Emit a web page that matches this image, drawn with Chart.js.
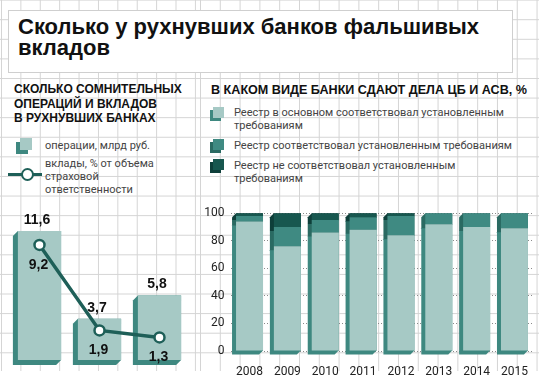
<!DOCTYPE html>
<html><head><meta charset="utf-8">
<script src="https://cdn.jsdelivr.net/npm/chart.js@4"></script>
<style>
html,body{margin:0;padding:0;background:#fff;}
body{width:539px;height:380px;position:relative;overflow:hidden;font-family:"Liberation Sans",Arial,sans-serif;}
.gridL{position:absolute;left:0;top:0;width:200px;height:371px;
 background-image:linear-gradient(to right,#d4d4d4 1px,transparent 1px),linear-gradient(to bottom,#d4d4d4 1px,transparent 1px);
 background-size:19.4px 19.6px;background-position:1px -0.4px;}
.gridR{position:absolute;left:200px;top:0;width:339px;height:371px;
 background-image:linear-gradient(to right,#d4d4d4 1px,transparent 1px),linear-gradient(to bottom,#d4d4d4 1px,transparent 1px);
 background-size:19.8px 19.6px;background-position:0 -0.4px;}
.titlebox{position:absolute;left:8px;top:10px;width:503px;height:61px;background:#fff;border:1px solid #cfcfcf;}
.title{position:absolute;left:18px;top:16px;font-family:"Liberation Sans",Arial,sans-serif;font-weight:900;font-size:22px;line-height:21px;color:#111;}
.h{position:absolute;font-weight:bold;font-size:12px;line-height:14.5px;color:#111;}
.lt{position:absolute;font-family:Roboto,"Liberation Sans",sans-serif;font-size:11px;line-height:13px;color:#444;}
.ic{position:absolute;width:11px;height:11px;}
canvas{position:absolute;}
</style></head><body>
<div class="gridL"></div><div class="gridR"></div>
<div class="titlebox"></div>
<div class="title">Сколько у рухнувших банков фальшивых<br>вкладов</div>

<div class="h" style="left:14px;top:82px;">СКОЛЬКО СОМНИТЕЛЬНЫХ<br>ОПЕРАЦИЙ И ВКЛАДОВ<br>В РУХНУВШИХ БАНКАХ</div>
<div class="ic" style="left:20px;top:138px;width:12px;height:12px;background:#a6c9c5;box-shadow:-4px 4px 0 #3e8880;"></div>
<div class="lt" style="left:45px;top:139px;">операции, млрд руб.</div>
<div style="position:absolute;left:8px;top:173px;width:34px;height:3px;background:#1e5f58;"></div>
<div style="position:absolute;left:21px;top:168px;width:9px;height:9px;border-radius:50%;background:#fff;border:2.5px solid #1e5f58;"></div>
<div class="lt" style="left:45px;top:157px;">вклады, % от объема<br>страховой<br>ответственности</div>

<div class="h" style="left:211px;top:83px;font-size:12.6px;">В КАКОМ ВИДЕ БАНКИ СДАЮТ ДЕЛА ЦБ И АСВ, %</div>
<div class="ic" style="left:213px;top:107px;background:#a6c9c5;box-shadow:-3px 3px 0 #3e8880;"></div>
<div class="lt" style="left:234px;top:106px;">Реестр в основном соответствовал установленным<br>требованиям</div>
<div class="ic" style="left:213px;top:139px;background:#3f8a82;box-shadow:-3px 3px 0 #2a6a62;"></div>
<div class="lt" style="left:234px;top:139px;">Реестр соответствовал установленным требованиям</div>
<div class="ic" style="left:213px;top:159px;background:#17574f;box-shadow:-3px 3px 0 #0e3f3a;"></div>
<div class="lt" style="left:234px;top:159px;">Реестр не соответствовал установленным<br>требованиям</div>

<canvas id="c1" width="197" height="170" style="left:0;top:200px;width:197px;height:170px;"></canvas>
<canvas id="c2" width="342" height="175" style="left:197px;top:200px;width:342px;height:175px;"></canvas>

<script>
// ---- data: left chart ----
const leftCategories = ["Банк 1", "Банк 2", "Банк 3"];
const operationsBn = [11.6, 3.7, 5.8];
const depositsPct = [9.2, 1.9, 1.3];
// ---- data: right chart ----
const years = ["2008","2009","2010","2011","2012","2013","2014","2015"];
const mostlyCompliant = [94, 76, 86, 88, 84, 92, 90, 89];
const compliant = [4, 14, 9, 9, 14, 8, 10, 11];
const nonCompliant = [2, 10, 5, 3, 2, 0, 0, 0];
const yTicks = [0, 20, 40, 60, 80, 100];

const fmt = v => String(v).replace('.', ',');

function extrude(dx, dy) {
  return {
    id: 'extrude',
    beforeDatasetsDraw(chart) {
      const ctx = chart.ctx;
      ctx.save();
      chart.data.datasets.forEach((ds, i) => {
        if (ds.type === 'line' || !ds.sideColor) return;
        const meta = chart.getDatasetMeta(i);
        meta.data.forEach(el => {
          const l = el.x - el.width / 2, r = el.x + el.width / 2;
          const t = Math.min(el.y, el.base), b = Math.max(el.y, el.base);
          if (b - t < 0.5) return;
          ctx.fillStyle = ds.sideColor;
          ctx.beginPath();
          ctx.moveTo(l, t); ctx.lineTo(r, t); ctx.lineTo(r, b);
          ctx.lineTo(r + dx, b + dy); ctx.lineTo(l + dx, b + dy); ctx.lineTo(l + dx, t + dy);
          ctx.closePath(); ctx.fill();
        });
      });
      ctx.restore();
    }
  };
}

const valueLabels = {
  id: 'valueLabels',
  afterDatasetsDraw(chart) {
    const ctx = chart.ctx;
    ctx.save();
    ctx.font = 'bold 14px "Liberation Sans", Arial, sans-serif';
    ctx.fillStyle = '#111';
    ctx.textAlign = 'center';
    chart.data.datasets.forEach((ds, i) => {
      const meta = chart.getDatasetMeta(i);
      meta.data.forEach((el, j) => {
        if (ds.type === 'line') {
          ctx.textBaseline = 'top';
          ctx.fillText(fmt(ds.data[j]), el.x - 1, el.y + 13);
        } else {
          ctx.textBaseline = 'bottom';
          ctx.fillText(fmt(ds.data[j]), el.x - 2.5, el.y - 4);
        }
      });
    });
    ctx.restore();
  }
};

new Chart(document.getElementById('c1'), {
  data: {
    labels: leftCategories,
    datasets: [
      { type: 'line', data: depositsPct, yAxisID: 'y1', order: 0,
        borderColor: '#1e5f58', borderWidth: 3.5, pointRadius: 5, pointBorderWidth: 2.5,
        pointBackgroundColor: '#fff', pointBorderColor: '#1e5f58', tension: 0 },
      { type: 'bar', data: operationsBn, yAxisID: 'y', order: 1,
        backgroundColor: '#a6c9c5', sideColor: '#3e8880', borderWidth: 0,
        barPercentage: 0.72, categoryPercentage: 1 }
    ]
  },
  options: {
    responsive: false, animation: false, devicePixelRatio: 1,
    layout: { padding: { left: 9.5, right: 4.5, top: 5, bottom: 10 } },
    plugins: { legend: { display: false }, tooltip: { enabled: false } },
    scales: {
      x: { display: false },
      y: { display: false, min: 0, max: 13.72 },
      y1: { display: false, min: -0.63, max: 12.4 }
    }
  },
  plugins: [extrude(-5, 5), valueLabels]
});

new Chart(document.getElementById('c2'), {
  type: 'bar',
  data: {
    labels: years,
    datasets: [
      { data: mostlyCompliant, backgroundColor: '#a6c9c5', sideColor: '#3e8880' },
      { data: compliant, backgroundColor: '#3f8a82', sideColor: '#2a6a62' },
      { data: nonCompliant, backgroundColor: '#17574f', sideColor: '#0e3f3a' }
    ].map(d => Object.assign(d, { borderWidth: 0, barPercentage: 0.713, categoryPercentage: 1 }))
  },
  options: {
    responsive: false, animation: false, devicePixelRatio: 1,
    layout: { padding: { left: 0, right: 5.6, top: 11, bottom: 0 } },
    plugins: { legend: { display: false }, tooltip: { enabled: false } },
    scales: {
      x: { stacked: true, grid: { display: false }, border: { display: false },
        ticks: { color: '#222', padding: 6, font: { family: 'Roboto', size: 12 } },
        afterFit: s => { s.height = 24; } },
      y: { stacked: true, min: 0, max: 100,
        afterBuildTicks: s => { s.ticks = yTicks.map(v => ({ value: v })); },
        grid: { color: '#8a8a8a', drawTicks: false, lineWidth: 1 },
        border: { display: false, dash: [1, 2] },
        ticks: { color: '#222', padding: 6, font: { family: 'Roboto', size: 12 } },
        afterFit: s => { s.width = 33.6; } }
    }
  },
  plugins: [extrude(-4, 4)]
});
</script>
</body></html>
